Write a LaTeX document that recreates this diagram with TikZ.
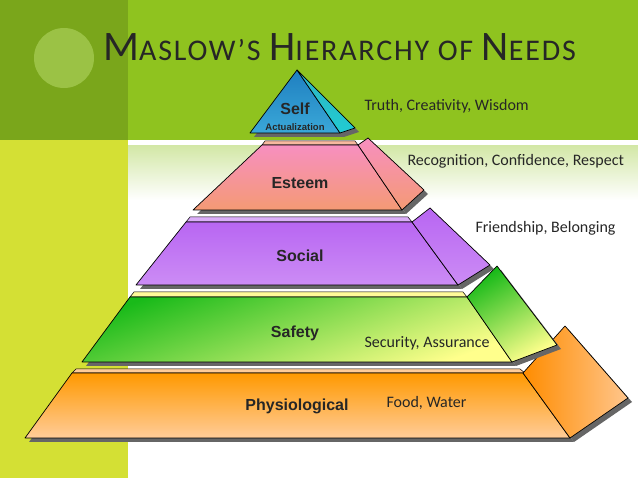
\documentclass[tikz,border=0pt]{standalone}
\usepackage{fontspec}
\setmainfont{Carlito}
\newfontfamily\arialf{Liberation Sans}
\definecolor{dkgreen}{HTML}{7AA61B}
\definecolor{topgreen}{HTML}{8FC31F}
\definecolor{lime}{HTML}{D4E034}
\definecolor{purA}{HTML}{B866F2}
\definecolor{purB}{HTML}{CC8CF5}
\definecolor{pinkA}{HTML}{F78FC0}
\definecolor{pinkB}{HTML}{F49A74}
\definecolor{blueA}{HTML}{1F7FC0}
\definecolor{blueB}{HTML}{3AA8D8}
\definecolor{tealA}{HTML}{2FB5C0}
\tikzset{
 face/.style={draw=black,line width=0.7pt,line join=round},
 shad/.style={fill=black!60},
 lvl/.style={font=\arialf\bfseries\fontsize{16}{18}\selectfont,text=black!85},
 lab/.style={font=\fontsize{16}{18}\selectfont,anchor=west,text=black!85}
}
\begin{document}
\begin{tikzpicture}[x=1pt,y=-1pt]
\useasboundingbox (0,0) rectangle (638,478);
% background
\fill[white] (0,0) rectangle (638,478);
\fill[topgreen] (128,0) rectangle (638,140);
\fill[dkgreen] (0,0) rectangle (128,140);
\fill[lime] (0,140) rectangle (128,478);
\shade[top color=topgreen!40, bottom color=white] (128,145) rectangle (638,200);
\fill[white] (128,140) rectangle (638,145);
\fill[topgreen!70!white,opacity=0.6] (64,58) circle (30);
% title
\node[anchor=base west,inner sep=0,text=black!85] (title) at (103,61)
 {\addfontfeatures{LetterSpace=6}\fontsize{42}{44}\selectfont M\fontsize{30}{32}\selectfont ASLOW’S \fontsize{42}{44}\selectfont H\fontsize{30}{32}\selectfont IERARCHY OF \fontsize{42}{44}\selectfont N\fontsize{30}{32}\selectfont EEDS};
% Physiological
\fill[shad] (76,377)--(527,377)--(574,442)--(29,442)--cycle;
\fill[shad] (527,377)--(569,330)--(632,402)--(574,442)--cycle;
\fill[orange!40!white,draw=black,line width=0.5pt] (76,369)--(520,369)--(525,373)--(72,373)--cycle;
\shade[face,top color=orange!80!yellow,bottom color=orange!40!white] (72,373)--(523,373)--(570,438)--(25,438)--cycle;
\shade[face,left color=orange!90!yellow,right color=orange!45!white] (523,373)--(565,326)--(628,398)--(570,438)--cycle;
% Safety
\fill[shad] (134,301)--(471,301)--(516,366)--(86,366)--cycle;
\fill[shad] (471,301)--(501,270)--(561,349)--(516,366)--cycle;
\fill[yellow!40!white,draw=black,line width=0.5pt] (134,292)--(463,292)--(467,297)--(130,297)--cycle;
\shade[face,top color=green!70!black!90,bottom color=yellow!45!white,shading angle=20] (130,297)--(467,297)--(512,362)--(82,362)--cycle;
\shade[face,top color=green!70!black!90,bottom color=yellow!45!white,shading angle=30] (467,297)--(497,266)--(557,345)--(512,362)--cycle;
% Social
\fill[shad] (190,226)--(416,226)--(462,289)--(140,289)--cycle;
\fill[shad] (416,226)--(434,212)--(494,269)--(462,289)--cycle;
\fill[purB!70!white,draw=black,line width=0.5pt] (190,217)--(408,217)--(412,222)--(186,222)--cycle;
\shade[face,top color=purA,bottom color=purB] (186,222)--(412,222)--(458,285)--(136,285)--cycle;
\shade[face,top color=purA,bottom color=purB] (412,222)--(430,208)--(490,265)--(458,285)--cycle;
% Esteem
\fill[shad] (266,149)--(362,149)--(406,214)--(197,214)--cycle;
\fill[shad] (362,149)--(372,142)--(428,194)--(406,214)--cycle;
\fill[pinkB!70!white,draw=black,line width=0.5pt] (265,141)--(355,141)--(358,145)--(262,145)--cycle;
\shade[face,top color=pinkA,bottom color=pinkB] (262,145)--(358,145)--(402,210)--(193,210)--cycle;
\shade[face,top color=pinkA,bottom color=pinkB] (358,145)--(368,138)--(424,190)--(402,210)--cycle;
% Self
\fill[shad] (301,74)--(359,132)--(344,137)--(254,137)--cycle;
\shade[face,top color=blueA,bottom color=blueB] (297,70)--(340,133)--(250,133)--cycle;
\shade[face,top color=tealA,bottom color=tealA!70!cyan] (297,70)--(355,128)--(340,133)--cycle;
% level texts
\node[lvl] (self) at (295,109) {Self};
\node[lvl,font=\arialf\bfseries\fontsize{9.5}{10}\selectfont] (act) at (295,127) {Actualization};
\node[lvl] (est) at (300,183) {Esteem};
\node[lvl] (soc) at (300,256) {Social};
\node[lvl] (saf) at (295,333) {Safety};
\node[lvl] (phy) at (297,406) {Physiological};
% right labels
\node[lab] (l1) at (361,106) {Truth, Creativity, Wisdom};
\node[lab] (l2) at (404,161) {Recognition, Confidence, Respect};
\node[lab] (l3) at (472,228) {Friendship, Belonging};
\node[lab] (l4) at (361,343) {Security, Assurance};
\node[lab] (l5) at (383,403) {Food, Water};
\end{tikzpicture}
\end{document}
